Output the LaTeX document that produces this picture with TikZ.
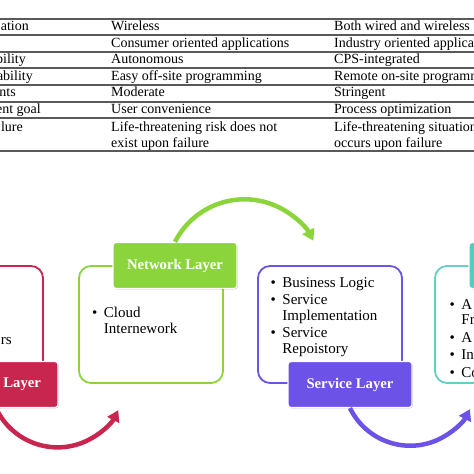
\documentclass[tikz,border=0pt]{standalone}
\usepackage{fontspec}
\setmainfont{Liberation Serif}
\usepackage{tikz}
\usetikzlibrary{arrows.meta,shadows}

\definecolor{physred}{HTML}{C8264E}
\definecolor{netgreen}{HTML}{8CD43C}
\definecolor{servpurple}{HTML}{6C52E6}
\definecolor{appteal}{HTML}{66CEC2}
\definecolor{appfill}{HTML}{4ED0C0}

\newcommand{\tabfont}{\fontsize{14}{16}\selectfont}
\newcommand{\boxfont}{\fontsize{15}{15.5}\selectfont}
\newcommand{\headfont}{\fontsize{14.7}{16}\selectfont\bfseries}

\begin{document}
\begin{tikzpicture}[
            x = 1pt, y = 1pt,
            > = {Triangle[length=11pt,width=13pt]}, % arrow head style
            layerbox/.style = {draw, rounded corners=12pt, line width=1.8pt,
                minimum width=144pt, minimum height=117pt, fill=white},
            headbox/.style = {rounded corners=3pt, draw=white, line width=1.2pt,
                minimum width=124pt, minimum height=46pt, inner sep=0pt,
                text=white, font=\headfont,
                drop shadow={shadow xshift=0.8pt, shadow yshift=-0.8pt, opacity=0.25, fill=black}},
            flow/.style = {->, line width=4.5pt},
            cell/.style = {anchor=base west, inner sep=0pt, font=\tabfont, align=left},
            frag/.style = {anchor=base east, inner sep=0pt, font=\tabfont},
            items/.style = {anchor=base west, inner sep=0pt, font=\boxfont},
            tabrule/.style = {line width=1.3pt, draw=black!65}
        ]
\useasboundingbox (0,0) rectangle (474,474);
\clip (0,0) rectangle (474,474);

% table
\foreach \y in {455,439,422,406,389,372,356,323}
  \draw[tabrule] (0,\y) -- (474,\y);

\node[frag] (r1a) at (29,443) {ation};
\node[frag] (r3a) at (26,410) {bility};
\node[frag] (r4a) at (33,393.5) {ability};
\node[frag] (r5a) at (16,377) {nts};
\node[frag] (r6a) at (41,360.5) {ent goal};
\node[frag] (r7a) at (23,342.5) {lure};

\node[cell] (r1b) at (111,443) {Wireless};
\node[cell] (r2b) at (111,426.5) {Consumer oriented applications};
\node[cell] (r3b) at (111,410) {Autonomous};
\node[cell] (r4b) at (111,393.5) {Easy off-site programming};
\node[cell] (r5b) at (111,377) {Moderate};
\node[cell] (r6b) at (111,360.5) {User convenience};
\node[cell] (r7b) at (111,326.5) {Life-threatening risk does not\\exist upon failure};

\node[cell] (r1c) at (334,443) {Both wired and wireless};
\node[cell] (r2c) at (334,426.5) {Industry oriented applications};
\node[cell] (r3c) at (334,410) {CPS-integrated};
\node[cell] (r4c) at (334,393.5) {Remote on-site programming};
\node[cell] (r5c) at (334,377) {Stringent};
\node[cell] (r6c) at (334,360.5) {Process optimization};
\node[cell] (r7c) at (334,326.5) {Life-threatening situation\\occurs upon failure};

% layer boxes
\node[layerbox, draw=physred] (physBox) at (-29,149.5) {};
\node[layerbox, draw=netgreen] (netBox) at (151,149.5) {};
\node[layerbox, draw=servpurple] (servBox) at (330,149.5) {};
\node[layerbox, draw=appteal] (appBox) at (507,149.5) {};

% headers
\node[headbox, fill=physred, text width=90pt, align=right] (physHead) at (-4,89.5) {Layer};
\node[headbox, fill=netgreen] (netHead) at (175,208.5) {Network Layer};
\node[headbox, fill=servpurple] (servHead) at (350,89.5) {Service Layer};
\node[headbox, fill=appfill] (appHead) at (531,208.5) {};

% flow arcs
\draw[flow, physred] (physHead.south) arc[start angle=205, end angle=333, radius=68];
\draw[flow, netgreen] (netHead.north) arc[start angle=153, end angle=28, radius=78];
\draw[flow, servpurple] (servHead.south) arc[start angle=206, end angle=333, radius=67];

% box contents
\node[frag, font=\boxfont] (physText) at (12,129.5) {rs};
\node[items] (netText) at (92,156) {\begin{tabular}[t]{@{}l@{\hspace{6.5pt}}l@{}}
  \textbullet & Cloud\\ & Internework\end{tabular}};
\node[items] (servText) at (270.5,186.5) {\begin{tabular}[t]{@{}l@{\hspace{6.5pt}}l@{}}
  \textbullet & Business Logic\\[2pt]
  \textbullet & Service\\ & Implementation\\[2pt]
  \textbullet & Service\\ & Repoistory\end{tabular}};
\node[items] (appText) at (449.5,164.5) {\begin{tabular}[t]{@{}l@{\hspace{6.5pt}}l@{}}
  \textbullet & A\\ & Fr\\[2pt]
  \textbullet & A\\[2pt]
  \textbullet & In\\[2pt]
  \textbullet & Co\end{tabular}};
\end{tikzpicture}
\end{document}
